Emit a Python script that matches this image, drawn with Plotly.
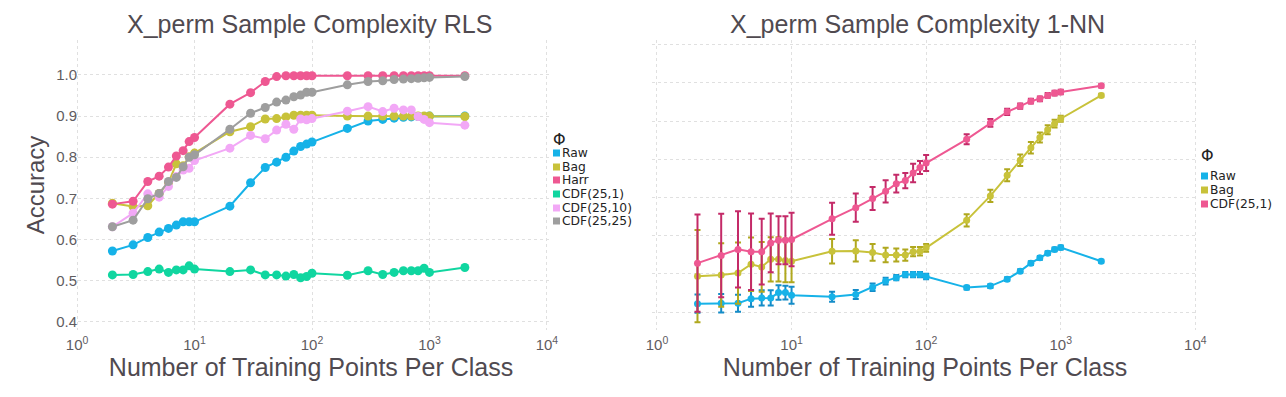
import plotly.graph_objects as go

# ---------------- data ----------------
n_train = [2, 3, 4, 5, 6, 7, 8, 9, 10, 20, 30, 40, 50, 60, 70, 80, 90, 100,
           200, 300, 400, 500, 600, 700, 800, 900, 1000, 2000]

# Left: RLS accuracy
rls_raw = [0.572, 0.587, 0.605, 0.618, 0.627, 0.635, 0.643, 0.643, 0.643, 0.681,
           0.738, 0.775, 0.788, 0.800, 0.815, 0.826, 0.832, 0.837,
           0.870, 0.888, 0.892, 0.895, 0.897, 0.898, 0.899, 0.899, 0.900, 0.900]
rls_bag = [0.688, 0.680, 0.682, 0.712, 0.738, 0.784, 0.779, 0.801, 0.810, 0.862,
           0.874, 0.893, 0.894, 0.898, 0.902, 0.902, 0.902, 0.902,
           0.900, 0.900, 0.900, 0.900, 0.900, 0.900, 0.900, 0.900, 0.900, 0.899]
rls_harr = [0.686, 0.693, 0.741, 0.754, 0.776, 0.803, 0.816, 0.838, 0.848, 0.929,
            0.957, 0.984, 0.996, 0.998, 0.998, 0.998, 0.998, 0.998,
            0.998, 0.998, 0.998, 0.998, 0.998, 0.998, 0.998, 0.998, 0.998, 0.998]
rls_cdf1 = [0.514, 0.515, 0.522, 0.528, 0.520, 0.526, 0.526, 0.536, 0.528, 0.522,
            0.526, 0.514, 0.514, 0.511, 0.515, 0.507, 0.510, 0.518,
            0.513, 0.524, 0.515, 0.520, 0.524, 0.524, 0.524, 0.530, 0.520, 0.532]
rls_cdf10 = [0.631, 0.664, 0.711, 0.703, 0.729, 0.753, 0.769, 0.773, 0.792, 0.822,
             0.853, 0.845, 0.866, 0.880, 0.868, 0.893, 0.891, 0.894,
             0.912, 0.923, 0.911, 0.919, 0.915, 0.915, 0.899, 0.892, 0.884, 0.878]
rls_cdf25 = [0.631, 0.647, 0.699, 0.712, 0.741, 0.751, 0.777, 0.800, 0.806, 0.868,
             0.907, 0.921, 0.934, 0.939, 0.947, 0.951, 0.958, 0.958,
             0.976, 0.984, 0.986, 0.989, 0.990, 0.991, 0.992, 0.993, 0.994, 0.996]

# Right: 1-NN accuracy (mean and error)
nn_raw = [0.422, 0.423, 0.423, 0.435, 0.437, 0.437, 0.451, 0.451, 0.444, 0.440,
          0.446, 0.465, 0.481, 0.490, 0.498, 0.498, 0.498, 0.493,
          0.464, 0.468, 0.486, 0.507, 0.528, 0.542, 0.554, 0.564, 0.569, 0.533]
nn_raw_err = [0.024, 0.024, 0.022, 0.021, 0.020, 0.020, 0.019, 0.018, 0.022, 0.013,
              0.012, 0.010, 0.009, 0.007, 0.007, 0.007, 0.007, 0.007,
              0.005, 0.005, 0.005, 0.005, 0.005, 0.005, 0.005, 0.005, 0.005, 0.004]
nn_bag = [0.494, 0.497, 0.502, 0.525, 0.518, 0.538, 0.538, 0.535, 0.533, 0.559,
          0.560, 0.556, 0.549, 0.549, 0.549, 0.558, 0.559, 0.568,
          0.640, 0.704, 0.758, 0.797, 0.830, 0.857, 0.877, 0.893, 0.906, 0.967]
nn_bag_err = [0.121, 0.083, 0.080, 0.070, 0.065, 0.058, 0.058, 0.057, 0.055, 0.032,
              0.028, 0.022, 0.019, 0.017, 0.015, 0.012, 0.011, 0.010,
              0.016, 0.016, 0.016, 0.015, 0.015, 0.013, 0.012, 0.010, 0.008, 0.004]
nn_cdf1 = [0.528, 0.548, 0.564, 0.558, 0.558, 0.581, 0.588, 0.588, 0.590, 0.644,
           0.673, 0.697, 0.716, 0.736, 0.744, 0.764, 0.778, 0.790,
           0.852, 0.895, 0.924, 0.939, 0.952, 0.958, 0.967, 0.973, 0.976, 0.992]
nn_cdf1_err = [0.127, 0.109, 0.100, 0.100, 0.086, 0.077, 0.063, 0.063, 0.070, 0.042,
               0.037, 0.030, 0.029, 0.023, 0.020, 0.024, 0.017, 0.021,
               0.013, 0.010, 0.008, 0.007, 0.006, 0.006, 0.006, 0.006, 0.006, 0.004]

left_names = ["Raw", "Bag", "Harr", "CDF(25,1)", "CDF(25,10)", "CDF(25,25)"]
right_names = ["Raw", "Bag", "CDF(25,1)"]
legend_title = "Φ"

x_tickvals = [1, 10, 100, 1000, 10000]
x_ticktext = ["10<sup>0</sup>", "10<sup>1</sup>", "10<sup>2</sup>", "10<sup>3</sup>", "10<sup>4</sup>"]
y_tickvals = [0.4, 0.5, 0.6, 0.7, 0.8, 0.9, 1.0]
y_ticktext = ["0.4", "0.5", "0.6", "0.7", "0.8", "0.9", "1.0"]
right_y_tickvals = [0.4, 0.5, 0.6, 0.7, 0.8, 0.9, 1.0, 1.1]

# ---------------- styles ----------------
C_RAW = "rgb(22,178,232)"
C_BAG = "rgb(200,194,58)"
C_PINK = "rgb(238,88,146)"
C_TEAL = "rgb(16,214,160)"
C_LPINK = "rgb(242,168,246)"
C_GRAY = "rgb(158,158,158)"
E_RAW = "rgb(20,140,200)"
E_BAG = "rgb(176,168,30)"
E_PINK = "rgb(196,42,104)"
TXT = "rgb(80,74,80)"
TICK = "rgb(95,92,95)"
LEG = "rgb(35,35,35)"
FONT = "Liberation Sans, Arial, sans-serif"
LFONT = "DejaVu Sans, sans-serif"

# the page places the figure 8 px in from the top-left corner
OFF = 8
W, H = 1286 - OFF, 397 - OFF


def px(x):
    return (x - OFF) / W


def py(y):
    return 1 - (y - OFF) / H


fig = go.Figure()


def add_series(x, y, color, name, xa, ya, msize, err=None, ecolor=None):
    kw = {}
    if err is not None:
        kw["error_y"] = dict(type="data", array=err, visible=True, color=ecolor,
                             thickness=2, width=3)
    fig.add_trace(go.Scatter(x=x, y=y, mode="lines+markers", name=name,
                             line=dict(color=color, width=2),
                             marker=dict(color=color, size=msize),
                             xaxis=xa, yaxis=ya, showlegend=False, **kw))


left_series = [rls_raw, rls_bag, rls_harr, rls_cdf1, rls_cdf10, rls_cdf25]
left_colors = [C_RAW, C_BAG, C_PINK, C_TEAL, C_LPINK, C_GRAY]
for ys, c, nm in zip(left_series, left_colors, left_names):
    add_series(n_train, ys, c, nm, "x", "y", 9)

right_series = [(nn_raw, nn_raw_err, C_RAW, E_RAW),
                (nn_bag, nn_bag_err, C_BAG, E_BAG),
                (nn_cdf1, nn_cdf1_err, C_PINK, E_PINK)]
for (ys, es, c, ec), nm in zip(right_series, right_names):
    add_series(n_train, ys, c, nm, "x2", "y2", 7, es, ec)

grid = dict(showgrid=True, gridcolor="rgb(224,224,224)", griddash="dot", gridwidth=1,
            zeroline=False, showline=False, ticks="", automargin=False,
            tickfont=dict(family=FONT, size=15, color=TICK))

xtitle_font = dict(family=FONT, size=25, color=TXT)

shapes = []
annotations = [
    dict(text="X_perm Sample Complexity RLS", x=px(309), y=py(24),
         xref="paper", yref="paper", showarrow=False, xanchor="center", yanchor="middle",
         font=dict(family=FONT, size=25, color=TXT)),
    dict(text="X_perm Sample Complexity 1-NN", x=px(918), y=py(24),
         xref="paper", yref="paper", showarrow=False, xanchor="center", yanchor="middle",
         font=dict(family=FONT, size=25, color=TXT)),
]


def add_legend(x_sq, y_title, y_items, names, colors):
    annotations.append(dict(text=legend_title, x=px(x_sq - 1), y=py(y_title),
                            xref="paper", yref="paper", showarrow=False,
                            xanchor="left", yanchor="middle",
                            font=dict(family=LFONT, size=16, color=LEG)))
    for yi, nm, c in zip(y_items, names, colors):
        shapes.append(dict(type="rect", xref="paper", yref="paper",
                           x0=px(x_sq + 1), x1=px(x_sq + 8),
                           y0=py(yi + 3.5), y1=py(yi - 3.5),
                           fillcolor=c, line=dict(width=0)))
        annotations.append(dict(text=nm, x=px(x_sq + 8), y=py(yi),
                                xref="paper", yref="paper", showarrow=False,
                                xanchor="left", yanchor="middle",
                                font=dict(family=LFONT, size=12.3, color=LEG)))


add_legend(552, 139, [153, 167, 180, 194, 208, 221], left_names, left_colors)
add_legend(1200, 155, [176, 190, 204], right_names, [C_RAW, C_BAG, C_PINK])

fig.update_layout(
    width=W, height=H,
    margin=dict(l=0, r=0, t=0, b=0),
    paper_bgcolor="white", plot_bgcolor="white",
    font=dict(family=FONT, color=TXT),
    showlegend=False,
    xaxis=dict(type="log", domain=[px(72), px(550)], range=[-0.043, 4.026],
               tickvals=x_tickvals, ticktext=x_ticktext, anchor="y",
               ticklabelstandoff=4,
               title=dict(text="Number of Training Points Per Class",
                          font=xtitle_font, standoff=4),
               **grid),
    yaxis=dict(domain=[py(330), py(40)], range=[0.38, 1.085], tickvals=y_tickvals,
               ticktext=y_ticktext, anchor="x", ticklabelstandoff=-6,
               title=dict(text="Accuracy", font=dict(family=FONT, size=24, color=TXT),
                          standoff=4),
               **grid),
    xaxis2=dict(type="log", domain=[px(652), px(1198)], range=[-0.037, 4.02],
                tickvals=x_tickvals, ticktext=x_ticktext, anchor="y2",
                ticklabelstandoff=4,
                title=dict(text="Number of Training Points Per Class",
                           font=xtitle_font, standoff=4),
                **grid),
    yaxis2=dict(domain=[py(330), py(40)], range=[0.353, 1.112], tickvals=right_y_tickvals,
                showticklabels=False, anchor="x2", **grid),
    shapes=shapes,
    annotations=annotations,
)

fig.write_html("out.html")
